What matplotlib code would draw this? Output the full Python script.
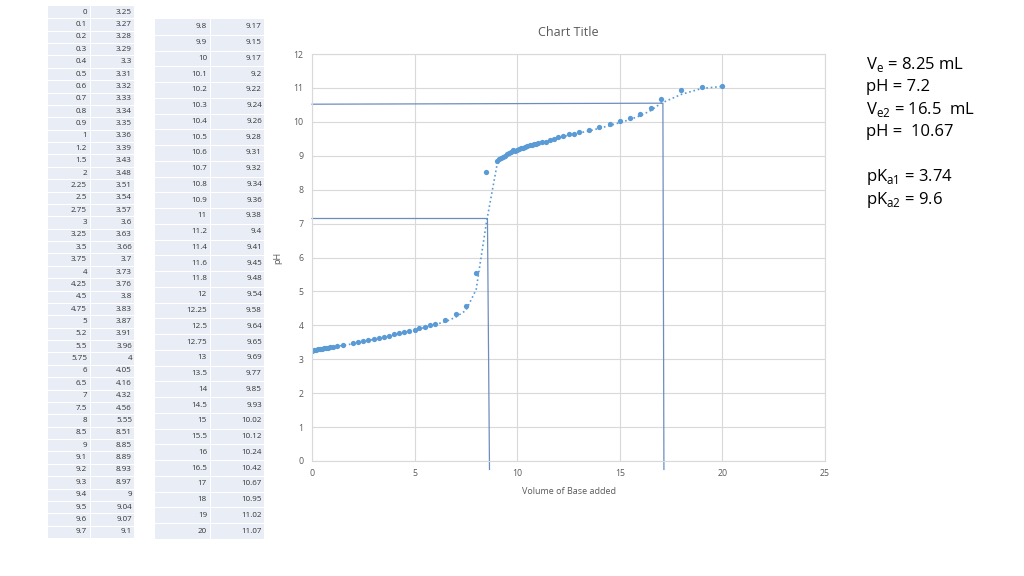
import numpy as np
import matplotlib.pyplot as plt

# titration data (volume of base in mL, pH)
volume = [0, 0.1, 0.2, 0.3, 0.4, 0.5, 0.6, 0.7, 0.8, 0.9, 1, 1.2, 1.5, 2,
          2.25, 2.5, 2.75, 3, 3.25, 3.5, 3.75, 4, 4.25, 4.5, 4.75, 5, 5.2, 5.5,
          5.75, 6, 6.5, 7, 7.5, 8, 8.5, 9, 9.1, 9.2, 9.3, 9.4, 9.5, 9.6, 9.7,
          9.8, 9.9, 10, 10.1, 10.2, 10.3, 10.4, 10.5, 10.6, 10.7, 10.8, 10.9,
          11, 11.2, 11.4, 11.6, 11.8, 12, 12.25, 12.5, 12.75, 13, 13.5, 14,
          14.5, 15, 15.5, 16, 16.5, 17, 18, 19, 20]
ph = [3.25, 3.27, 3.28, 3.29, 3.3, 3.31, 3.32, 3.33, 3.34, 3.35, 3.36, 3.39,
      3.43, 3.48, 3.51, 3.54, 3.57, 3.6, 3.63, 3.66, 3.7, 3.73, 3.76, 3.8,
      3.83, 3.87, 3.91, 3.96, 4, 4.05, 4.16, 4.32, 4.56, 5.55, 8.51, 8.85,
      8.89, 8.93, 8.97, 9, 9.04, 9.07, 9.1, 9.17, 9.15, 9.17, 9.2, 9.22,
      9.24, 9.26, 9.28, 9.31, 9.32, 9.34, 9.36, 9.38, 9.4, 9.41, 9.45, 9.48,
      9.54, 9.58, 9.64, 9.65, 9.69, 9.77, 9.85, 9.93, 10.02, 10.12, 10.24,
      10.42, 10.67, 10.95, 11.02, 11.07]
split = 43  # rows in the first table

# hand drawn equivalence point guides
eq1_x = [0, 8.55, 8.65]
eq1_y = [7.15, 7.15, -0.25]
eq2_x = [0, 17.1, 17.15]
eq2_y = [10.52, 10.55, -0.25]

notes = [r"V$_\mathregular{e}$ = 8.25 mL", "pH = 7.2",
         r"V$_\mathregular{e2}$ = 16.5  mL", "pH =  10.67", "",
         r"pK$_\mathregular{a1}$ = 3.74", r"pK$_\mathregular{a2}$ = 9.6"]

blue = '#5b9bd5'
grey_txt = '#595959'

plt.rcParams['font.family'] = ['Open Sans', 'DejaVu Sans']
plt.rcParams['mathtext.fontset'] = 'custom'
plt.rcParams['mathtext.rm'] = 'Open Sans'

fig = plt.figure(figsize=(10.24, 5.76), dpi=100)

# background axes in pixel coordinates for the tables and notes
bg = fig.add_axes([0, 0, 1, 1])
bg.set_xlim(0, 1024)
bg.set_ylim(576, 0)
bg.axis('off')


def drawTable(xs, ys, x0, xmid, x1, top, bottom):
    n = len(xs)
    h = (bottom - top) / n
    bg.add_patch(plt.Rectangle((x0, top), x1 - x0, bottom - top,
                               facecolor='#e9edf5', edgecolor='none'))
    for i in range(1, n):
        bg.plot([x0, x1], [top + i * h] * 2, color='white', lw=0.8)
    bg.plot([xmid, xmid], [top, bottom], color='white', lw=0.8)
    for i in range(n):
        yc = top + (i + 0.5) * h
        bg.text(xmid - 3, yc, f"{xs[i]:g}", ha='right', va='center',
                fontsize=5.8, color='#333333')
        bg.text(x1 - 2, yc, f"{ys[i]:g}", ha='right', va='center',
                fontsize=5.8, color='#333333')


drawTable(volume[:split], ph[:split], 48, 90, 134, 6, 538)
drawTable(volume[split:], ph[split:], 155, 210, 264, 19, 539)

for i, line in enumerate(notes):
    bg.text(866, 64 + i * 22.6, line, ha='left', va='center', fontsize=12,
            color='black')

# the chart itself
ax = fig.add_axes([312 / 1024, 1 - 461 / 576, 513 / 1024, 407 / 576])
ax.set_xlim(0, 25)
ax.set_ylim(0, 12)
ax.set_xticks(range(0, 26, 5))
ax.set_yticks(range(0, 13))
ax.grid(True, color='#d9d9d9', lw=0.8)
ax.set_axisbelow(True)
for s in ax.spines.values():
    s.set_color('#d9d9d9')
    s.set_linewidth(0.8)
ax.tick_params(length=0, labelsize=6.3, labelcolor=grey_txt, pad=6)

# 2 period moving average trendline
v = np.array(volume)
p = np.array(ph)
ax.plot(v[1:], (p[1:] + p[:-1]) / 2, ls=':', color=blue, lw=1.2)
ax.plot(volume, ph, 'o', color=blue, ms=3.8, mec='none')

ax.plot(eq1_x, eq1_y, color='#6c8ebf', lw=0.9, clip_on=False)
ax.plot(eq2_x, eq2_y, color='#6c8ebf', lw=0.9, clip_on=False)

ax.set_title("Chart Title", fontsize=9, color=grey_txt, pad=13)
ax.set_xlabel("Volume of Base added", fontsize=6.5, color=grey_txt, labelpad=6)
ax.set_ylabel("pH", fontsize=6.5, color=grey_txt, labelpad=8)

fig.savefig("out.png", dpi=100)
